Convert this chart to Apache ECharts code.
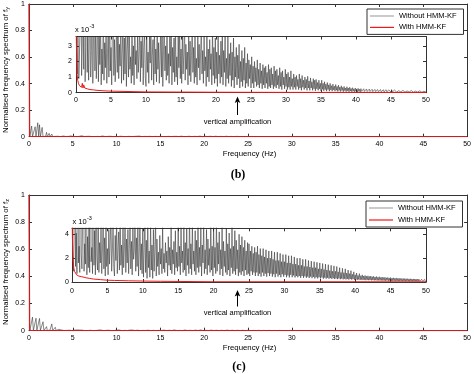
<!DOCTYPE html>
<html><head><meta charset="utf-8">
<script src="https://cdn.jsdelivr.net/npm/echarts@6/dist/echarts.min.js"></script>
<style>html,body{margin:0;padding:0;background:#fff}#c{width:474px;height:374px}</style>
</head><body><div id="c"></div>
<script>
// spectrum sample spacing (Hz)
const FREQ_STEP = 0.1;
// Panel (b): normalised spectrum of f_y, units of 1e-3, one value per FREQ_STEP from 0 Hz (one row = 1 Hz)
const grayB = [
1000, 3.1, 1.2, 80, 0.9, 2.6, 4.0, 75, 1.1, 3.3,
105, 1.5, 90, 0.7, 2.9, 70, 1.3, 4.4, 0.8, 3.0,
33, 1.0, 2.7, 25, 0.6, 3.8, 20, 1.4, 5.1, 0.9,
2.4, 6.3, 0.7, 3.6, 1.8, 4.9, 0.5, 2.8, 1.2, 5.4,
0.8, 3.2, 1.6, 4.6, 0.6, 2.5, 3.9, 1.0, 5.7, 1.4,
2.9, 0.5, 4.2, 9.0, 1.1, 3.4, 0.7, 2.2, 4.8, 1.3,
7.2, 0.9, 3.1, 1.7, 5.0, 0.6, 2.6, 4.1, 0.8, 3.5,
1.2, 5.3, 0.4, 2.8, 3.7, 1.0, 4.5, 1.5, 2.3, 0.6,
4.7, 1.1, 3.0, 0.5, 5.6, 1.8, 2.7, 0.9, 3.9, 1.3,
2.5, 4.6, 0.7, 3.3, 1.6, 5.2, 0.5, 2.9, 3.8, 1.0,
0.4, 4.0, 1.3, 2.6, 0.6, 3.7, 1.9, 4.9, 0.8, 2.4,
3.4, 0.5, 4.4, 1.2, 2.8, 0.7, 5.1, 1.5, 3.2, 0.6,
2.1, 4.3, 1.0, 3.6, 0.4, 2.7, 4.8, 1.4, 3.0, 0.8,
5.0, 1.1, 2.5, 0.6, 3.9, 1.7, 4.2, 0.5, 2.9, 1.3,
3.5, 0.7, 4.6, 1.0, 2.3, 0.5, 3.8, 1.6, 4.4, 0.9,
2.8, 0.6, 3.9, 1.2, 2.5, 4.7, 0.8, 3.1, 1.5, 2.6,
0.5, 4.1, 1.1, 3.3, 0.7, 2.4, 4.5, 1.3, 2.9, 0.6,
3.7, 1.0, 2.2, 0.5, 4.0, 1.6, 3.1, 0.8, 2.6, 4.3,
1.2, 2.7, 0.6, 3.6, 1.4, 2.3, 0.4, 3.9, 1.0, 2.8,
0.7, 3.4, 1.5, 2.5, 0.5, 4.2, 1.1, 2.9, 0.6, 3.5,
0.9, 2.6, 0.4, 3.8, 1.2, 2.4, 0.6, 3.3, 1.0, 4.1,
0.5, 2.7, 1.3, 3.6, 0.4, 2.2, 0.9, 3.9, 0.6, 2.5,
1.1, 3.2, 0.4, 2.6, 0.8, 3.5, 0.3, 2.3, 1.0, 2.9,
0.5, 2.4, 0.9, 3.1, 0.3, 2.0, 0.7, 2.7, 0.4, 2.2,
0.8, 2.9, 0.3, 1.9, 0.6, 2.5, 0.4, 2.1, 0.9, 1.8,
0.3, 2.3, 0.6, 1.7, 0.3, 2.0, 0.7, 1.6, 0.4, 2.1,
0.5, 1.5, 0.3, 1.9, 0.6, 1.4, 0.25, 1.8, 0.5, 1.6,
0.3, 1.7, 0.6, 1.3, 0.25, 1.8, 0.4, 1.5, 0.3, 1.6,
0.5, 1.2, 0.25, 1.7, 0.4, 1.4, 0.3, 1.5, 0.5, 1.1,
0.25, 1.6, 0.4, 1.3, 0.2, 1.4, 0.5, 1.0, 0.25, 1.5,
0.4, 1.2, 0.2, 1.3, 0.35, 1.0, 0.2, 1.4, 0.4, 0.9,
0.2, 1.2, 0.35, 1.0, 0.2, 1.1, 0.4, 0.85, 0.2, 1.2,
0.3, 0.9, 0.15, 1.1, 0.35, 0.8, 0.2, 1.0, 0.3, 0.85,
0.15, 1.05, 0.3, 0.75, 0.15, 0.95, 0.3, 0.7, 0.15, 0.9,
0.25, 0.8, 0.12, 0.85, 0.25, 0.65, 0.15, 0.8, 0.25, 0.6,
0.12, 0.8, 0.22, 0.6, 0.12, 0.7, 0.2, 0.55, 0.1, 0.65,
0.2, 0.5, 0.1, 0.6, 0.18, 0.45, 0.1, 0.55, 0.18, 0.42,
0.1, 0.52, 0.16, 0.4, 0.08, 0.48, 0.15, 0.36, 0.08, 0.44,
0.14, 0.34, 0.07, 0.4, 0.13, 0.3, 0.07, 0.38, 0.12, 0.3,
0.06, 0.35, 0.11, 0.27, 0.06, 0.32, 0.1, 0.25, 0.06, 0.3,
0.1, 0.24, 0.05, 0.28, 0.09, 0.22, 0.05, 0.26, 0.09, 0.2,
0.05, 0.25, 0.08, 0.2, 0.05, 0.24, 0.08, 0.19, 0.05, 0.23,
0.08, 0.18, 0.04, 0.22, 0.07, 0.18, 0.04, 0.21, 0.07, 0.17,
0.04, 0.2, 0.07, 0.16, 0.04, 0.2, 0.06, 0.16, 0.04, 0.19,
0.06, 0.15, 0.04, 0.19, 0.06, 0.15, 0.04, 0.18, 0.06, 0.14,
0.04, 0.18, 0.05, 0.14, 0.04, 0.17, 0.05, 0.13, 0.04, 0.16,
0.05, 0.13, 0.03, 0.16, 0.05, 0.12, 0.03, 0.15, 0.05, 0.12,
0.03, 0.15, 0.05, 0.11, 0.03, 0.14, 0.04, 0.11, 0.03, 0.14,
0.04, 0.1, 0.03, 0.13, 0.04, 0.1, 0.03, 0.13, 0.04, 0.1,
0.03, 0.12, 0.04, 0.09, 0.03, 0.12, 0.04, 0.09, 0.03, 0.11,
0.04
];
// [Hz, value x1e-3]
const redB = [[0,1000],[0.05,3.4],[0.1,2.0],[0.15,1.2],[0.25,0.8],[0.35,0.6],[0.5,0.45],[0.65,0.55],[0.8,0.35],[0.9,0.6],[1.0,0.3],[1.1,0.5],[1.25,0.3],[1.4,0.4],[1.6,0.25],[1.8,0.3],[2.0,0.2],[2.5,0.18],[3,0.15],[4,0.12],[5,0.1],[6,0.09],[8,0.07],[10,0.05],[15,0.04],[20,0.03],[30,0.02],[40,0.02],[50,0.015]];

// Panel (c): normalised spectrum of f_z
const grayC = [
1000, 2.2, 0.9, 3.5, 100, 1.3, 4.1, 0.7, 92, 1.6,
3.0, 0.8, 90, 2.4, 1.1, 4.6, 66, 0.9, 3.2, 1.5,
30, 0.6, 3.8, 1.2, 5.0, 0.8, 50, 1.7, 2.9, 0.7,
25, 1.4, 4.3, 0.6, 10, 2.1, 1.0, 5.5, 0.8, 3.3,
1.6, 4.8, 0.7, 2.6, 6.2, 1.1, 3.7, 0.5, 5.1, 1.3,
2.8, 0.6, 4.4, 1.5, 3.3, 5.9, 0.9, 2.5, 4.7, 1.2,
0.5, 3.9, 1.8, 5.4, 0.7, 2.9, 4.2, 1.0, 6.1, 1.4,
3.1, 0.6, 4.9, 1.2, 2.7, 5.6, 0.8, 3.6, 1.6, 4.4,
0.7, 2.8, 5.2, 1.1, 3.4, 0.6, 4.6, 1.9, 2.6, 5.8,
0.9, 3.7, 1.3, 4.9, 0.5, 2.4, 6.0, 1.0, 3.2, 0.7,
4.5, 0.4, 2.9, 5.3, 0.8, 3.5, 0.3, 4.8, 1.2, 2.6,
0.4, 5.0, 1.0, 3.1, 0.3, 4.4, 0.9, 2.7, 5.2, 0.5,
3.6, 1.3, 2.5, 0.6, 3.9, 1.5, 2.8, 0.7, 4.6, 1.1,
2.4, 0.8, 3.3, 1.6, 2.6, 0.5, 3.8, 1.4, 2.9, 1.0,
4.9, 0.7, 2.7, 1.5, 3.4, 0.6, 4.3, 1.2, 2.5, 0.9,
5.4, 1.3, 3.0, 0.6, 4.7, 1.6, 2.6, 0.8, 5.1, 1.0,
3.3, 0.5, 4.5, 1.4, 2.8, 0.7, 5.7, 1.1, 3.2, 0.6,
4.9, 1.5, 2.6, 0.9, 4.3, 0.6, 3.5, 1.2, 5.2, 0.8,
2.9, 1.3, 4.7, 0.5, 3.1, 1.6, 5.0, 0.7, 2.7, 1.1,
4.4, 0.6, 3.6, 1.4, 2.8, 0.8, 5.3, 1.0, 3.0, 0.5,
4.6, 1.2, 2.9, 0.7, 5.1, 0.9, 3.3, 1.5, 4.2, 0.6,
2.7, 1.1, 4.8, 0.5, 3.4, 1.3, 2.6, 0.8, 4.5, 0.6,
3.2, 1.0, 4.1, 0.5, 2.8, 1.2, 4.6, 0.7, 3.0, 0.9,
4.3, 0.6, 3.5, 1.1, 2.7, 0.5, 4.0, 0.8, 3.1, 0.6,
3.8, 0.9, 2.9, 0.5, 3.5, 1.0, 2.6, 0.6, 3.3, 0.7,
3.2, 0.5, 2.6, 0.9, 3.0, 0.6, 2.4, 0.8, 2.9, 0.5,
2.5, 0.8, 3.0, 0.5, 2.3, 0.7, 2.8, 0.45, 2.2, 0.8,
2.8, 0.5, 2.1, 0.7, 2.7, 0.45, 2.0, 0.75, 2.6, 0.5,
2.0, 0.7, 2.6, 0.45, 1.9, 0.65, 2.5, 0.4, 1.8, 0.7,
2.5, 0.45, 1.8, 0.6, 2.4, 0.4, 1.7, 0.65, 2.3, 0.45,
1.7, 0.6, 2.3, 0.4, 1.6, 0.55, 2.2, 0.38, 1.6, 0.6,
2.2, 0.4, 1.5, 0.55, 2.1, 0.38, 1.5, 0.5, 2.0, 0.4,
1.4, 0.5, 2.0, 0.35, 1.4, 0.5, 1.9, 0.35, 1.3, 0.48,
1.9, 0.35, 1.3, 0.45, 1.8, 0.33, 1.25, 0.45, 1.75, 0.32,
1.2, 0.42, 1.7, 0.3, 1.2, 0.4, 1.65, 0.3, 1.1, 0.4,
1.6, 0.3, 1.1, 0.38, 1.55, 0.28, 1.05, 0.36, 1.5, 0.28,
1.0, 0.35, 1.45, 0.27, 0.95, 0.33, 1.4, 0.26, 0.9, 0.32,
1.35, 0.25, 0.9, 0.3, 1.3, 0.24, 0.85, 0.3, 1.2, 0.23,
0.8, 0.28, 1.15, 0.22, 0.78, 0.27, 1.1, 0.21, 0.75, 0.26,
1.0, 0.2, 0.7, 0.25, 0.95, 0.2, 0.65, 0.24, 0.85, 0.19,
0.6, 0.22, 0.75, 0.18, 0.55, 0.21, 0.7, 0.17, 0.52, 0.2,
0.6, 0.16, 0.5, 0.19, 0.55, 0.15, 0.48, 0.18, 0.52, 0.15,
0.46, 0.17, 0.5, 0.14, 0.44, 0.16, 0.48, 0.13, 0.42, 0.15,
0.46, 0.12, 0.4, 0.14, 0.44, 0.12, 0.38, 0.13, 0.42, 0.11,
0.37, 0.12, 0.4, 0.1, 0.35, 0.12, 0.38, 0.1, 0.34, 0.11,
0.37, 0.09, 0.33, 0.1, 0.35, 0.09, 0.31, 0.1, 0.34, 0.08,
0.3, 0.09, 0.32, 0.08, 0.29, 0.09, 0.3, 0.07, 0.28, 0.08,
0.29, 0.07, 0.27, 0.08, 0.28, 0.07, 0.26, 0.07, 0.27, 0.06,
0.25, 0.07, 0.26, 0.06, 0.24, 0.07, 0.25, 0.06, 0.23, 0.06,
0.24, 0.06, 0.22, 0.06, 0.23, 0.05, 0.21, 0.06, 0.22, 0.05,
0.05
];
const redC = [[0,1000],[0.05,4.0],[0.1,2.5],[0.15,1.8],[0.25,1.2],[0.35,0.9],[0.5,0.75],[0.65,0.6],[0.8,0.7],[0.95,0.5],[1.1,0.6],[1.3,0.45],[1.5,0.55],[1.7,0.4],[2.0,0.35],[2.5,0.3],[3,0.25],[4,0.2],[5,0.15],[6,0.13],[8,0.1],[10,0.08],[12.5,0.06],[12.6,0.02],[20,0.02],[30,0.02],[40,0.02],[50,0.015]];

const seriesNames = ['Without HMM-KF', 'With HMM-KF'];
const yTitles = ['Normalised frequency spectrum of f', 'y', 'z'];
const panelLabels = ['(b)', '(c)'];
const xTitle = 'Frequency (Hz)';
const insetNote = 'vertical amplification';

const FONT = 'Liberation Sans';
const AX = '#333';
const GRAY = 'rgba(45,45,45,0.62)';
const GRAY_LEGEND = '#a8a8a8';
const RED = '#f01818';

const grids = [
  {left: 29, top: 4, width: 441, height: 132.7},
  {left: 76, top: 36.5, width: 350, height: 56.2, show: true, backgroundColor: '#fff', borderWidth: 0},
  {left: 29, top: 195, width: 441, height: 135.7},
  {left: 72, top: 228.3, width: 354, height: 53.7, show: true, backgroundColor: '#fff', borderWidth: 0}
];
const yCfg = [
  {max: 1, interval: 0.2, margin: 4},
  {max: 3.6, interval: 1, margin: 4},
  {max: 1, interval: 0.2, margin: 4},
  {max: 4.5, interval: 2, margin: 3}
];
const xMargin = [4, 4, 4, 6];

const xAxes = [], yAxes = [];
grids.forEach((g, i) => {
  ['bottom', 'top'].forEach((pos, k) => {
    xAxes.push({
      type: 'value', gridIndex: i, position: pos, min: 0, max: 50, interval: 5,
      axisLine: {show: true, onZero: false, lineStyle: {color: AX, width: 1}},
      axisTick: {show: true, inside: true, length: 3, lineStyle: {color: AX}},
      axisLabel: {show: k === 0, fontSize: 7, fontFamily: FONT, color: '#000', margin: xMargin[i]},
      splitLine: {show: false}
    });
  });
  ['left', 'right'].forEach((pos, k) => {
    yAxes.push({
      type: 'value', gridIndex: i, position: pos, min: 0, max: yCfg[i].max, interval: yCfg[i].interval,
      axisLine: {show: true, onZero: false, lineStyle: {color: AX, width: 1}},
      axisTick: {show: true, inside: true, length: 3, lineStyle: {color: AX}},
      axisLabel: {show: k === 0, fontSize: 7, fontFamily: FONT, color: '#000', margin: yCfg[i].margin, showMaxLabel: i % 2 === 0},
      splitLine: {show: false}
    });
  });
});

function grayData(arr, scale) { return arr.map((v, i) => [i * FREQ_STEP, v * scale]); }
function redData(arr, scale) { return arr.map(p => [p[0], p[1] * scale]); }

const series = [];
[[grayB, redB], [grayC, redC]].forEach((pair, p) => {
  [[1e-3, 2 * p], [1, 2 * p + 1]].forEach(([scale, g]) => {
    series.push({
      name: seriesNames[0], type: 'line', xAxisIndex: 2 * g, yAxisIndex: 2 * g,
      data: grayData(pair[0], scale), symbol: 'none', lineStyle: {color: GRAY, width: 0.9}, itemStyle: {color: GRAY_LEGEND},
      clip: true, silent: true, z: 2
    });
    series.push({
      name: seriesNames[1], type: 'line', xAxisIndex: 2 * g, yAxisIndex: 2 * g,
      data: redData(pair[1], scale), symbol: 'none', lineStyle: {color: RED, width: 1}, itemStyle: {color: RED},
      clip: true, silent: true, z: 3
    });
  });
});

function legendCfg(top, left, gap) {
  return {
    orient: 'vertical', left: left, top: top, itemWidth: 24, itemHeight: 1.2, itemGap: gap, icon: 'rect',
    padding: [3, 7, 3, 3], borderColor: AX, borderWidth: 1, backgroundColor: '#fff',
    textStyle: {fontSize: 7.5, fontFamily: FONT, color: '#000', lineHeight: 8},
    data: [{name: seriesNames[0], itemStyle: {color: GRAY_LEGEND}}, {name: seriesNames[1], itemStyle: {color: RED}}],
    selectedMode: false, z: 10
  };
}

function yTitle(cx, cy, sub) {
  return {
    type: 'text', x: cx, y: cy, rotation: Math.PI / 2, z: 20,
    style: {
      text: '{a|' + yTitles[0] + '}{s|' + sub + '}', align: 'center', verticalAlign: 'middle',
      rich: {
        a: {fontSize: 7.8, fontFamily: FONT, fill: '#000', lineHeight: 10, verticalAlign: 'middle'},
        s: {fontSize: 5.5, fontFamily: FONT, fill: '#000', lineHeight: 10, verticalAlign: 'bottom', padding: [3, 0, 0, 0]}
      }
    }
  };
}
function txt(x, y, s, opt) {
  return {type: 'text', x: x, y: y, z: 20, style: Object.assign({text: s, fontSize: 7.5, fontFamily: FONT, fill: '#000', align: 'center', verticalAlign: 'middle'}, opt || {})};
}
function arrow(x, tip, bottom) {
  return [
    {type: 'line', z: 20, shape: {x1: x, y1: tip + 5, x2: x, y2: bottom}, style: {stroke: '#000', lineWidth: 1}},
    {type: 'polygon', z: 20, shape: {points: [[x, tip], [x - 2.8, tip + 6.5], [x, tip + 5], [x + 2.8, tip + 6.5]]}, style: {fill: '#000'}}
  ];
}

const graphic = [
  yTitle(5.5, 70, yTitles[1]),
  yTitle(5.5, 262, yTitles[2]),
  txt(249.5, 154.3, xTitle, {fontSize: 7.8}),
  txt(249.5, 348.3, xTitle, {fontSize: 7.8}),
  txt(238, 175, panelLabels[0], {fontFamily: 'Liberation Serif', fontWeight: 'bold', fontSize: 12}),
  txt(239, 367, panelLabels[1], {fontFamily: 'Liberation Serif', fontWeight: 'bold', fontSize: 12}),
  txt(237.5, 121.7, insetNote),
  txt(237.5, 313.3, insetNote),
  txt(75, 29.5, 'x 10', {align: 'left', fontSize: 7.5}),
  txt(89.5, 26.3, '-3', {align: 'left', fontSize: 5.5}),
  txt(72.5, 221.7, 'x 10', {align: 'left', fontSize: 7.5}),
  txt(87, 218.5, '-3', {align: 'left', fontSize: 5.5})
].concat(arrow(237.5, 96.5, 115)).concat(arrow(237.5, 290, 306.5));

const chart = echarts.init(document.getElementById('c'), null, {renderer: 'canvas'});
chart.setOption({
  animation: false,
  backgroundColor: '#fff',
  grid: grids,
  xAxis: xAxes,
  yAxis: yAxes,
  legend: [legendCfg(9, 367, 3.4), legendCfg(201, 366, 4)],
  series: series,
  graphic: graphic
});
</script></body></html>
